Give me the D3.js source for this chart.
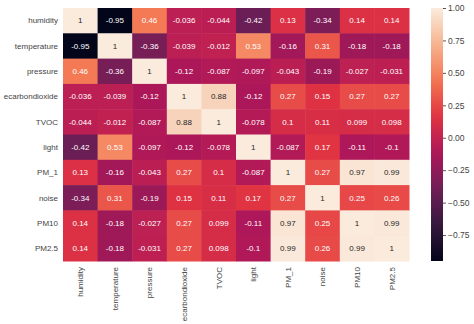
<!DOCTYPE html>
<html lang="en">
<head>
<meta charset="UTF-8">
<title>heatmap</title>
<script src="https://cdn.jsdelivr.net/npm/d3@7"></script>
<style>
    body { margin: 0; background: #fff; }
    text { font-family: "Liberation Sans", Arial, sans-serif; }
</style>
</head>
<body>
<div id="d3"></div>
<script>
    // variables
    var names = ["humidity", "temperature", "pressure", "ecarbondioxide", "TVOC",
                 "light", "PM_1", "noise", "PM10", "PM2.5"];
    // correlation matrix, row by row
    var humidity       = [1, -0.95, 0.46, -0.036, -0.044, -0.42, 0.13, -0.34, 0.14, 0.14];
    var temperature    = [-0.95, 1, -0.36, -0.039, -0.012, 0.53, -0.16, 0.31, -0.18, -0.18];
    var pressure       = [0.46, -0.36, 1, -0.12, -0.087, -0.097, -0.043, -0.19, -0.027, -0.031];
    var ecarbondioxide = [-0.036, -0.039, -0.12, 1, 0.88, -0.12, 0.27, 0.15, 0.27, 0.27];
    var TVOC           = [-0.044, -0.012, -0.087, 0.88, 1, -0.078, 0.1, 0.11, 0.099, 0.098];
    var light          = [-0.42, 0.53, -0.097, -0.12, -0.078, 1, -0.087, 0.17, -0.11, -0.1];
    var PM_1           = [0.13, -0.16, -0.043, 0.27, 0.1, -0.087, 1, 0.27, 0.97, 0.99];
    var noise          = [-0.34, 0.31, -0.19, 0.15, 0.11, 0.17, 0.27, 1, 0.25, 0.26];
    var PM10           = [0.14, -0.18, -0.027, 0.27, 0.099, -0.11, 0.97, 0.25, 1, 0.99];
    var PM25           = [0.14, -0.18, -0.031, 0.27, 0.098, -0.1, 0.99, 0.26, 0.99, 1];
    var matrix = [humidity, temperature, pressure, ecarbondioxide, TVOC,
                  light, PM_1, noise, PM10, PM25];
    var cbTicks = [-0.75, -0.5, -0.25, 0, 0.25, 0.5, 0.75, 1];

    // rocket colormap stops
    var rocket = ["#03051a", "#35193e", "#701f57", "#ad1759", "#e13342", "#f37651", "#f6b48f", "#faebdd"];

    var width = 474, height = 324;
    var mLeft = 63, mRight = 409, mTop = 8, mBottom = 261;

    var cells = [];
    matrix.forEach(function (row, i) {
        row.forEach(function (v, j) {
            cells.push({row: names[i], col: names[j], value: v});
        });
    });

    var vmin = d3.min(cells, function (d) { return d.value; });
    var vmax = d3.max(cells, function (d) { return d.value; });

    var interp = d3.piecewise(d3.interpolateRgb, rocket);
    var color = d3.scaleSequential(interp).domain([vmin, vmax]);

    // pick dark or white annotation text
    function lum(c) {
        var rgb = d3.rgb(c);
        var f = function (v) {
            v = v / 255;
            return v <= 0.03928 ? v / 12.92 : Math.pow((v + 0.055) / 1.055, 2.4);
        };
        return 0.2126 * f(rgb.r) + 0.7152 * f(rgb.g) + 0.0722 * f(rgb.b);
    }

    var x = d3.scaleBand().domain(names).range([mLeft, mRight]);
    var y = d3.scaleBand().domain(names).range([mTop, mBottom]);

    var svg = d3.select("#d3")
                .append("svg")
                .attr("width", width)
                .attr("height", height);

    svg.append("g")
        .selectAll("rect")
        .data(cells)
        .enter()
        .append("rect")
        .attr("x", function (d) { return x(d.col); })
        .attr("y", function (d) { return y(d.row); })
        .attr("width", x.bandwidth() + 0.5)
        .attr("height", y.bandwidth() + 0.5)
        .style("fill", function (d) { return color(d.value); });

    svg.append("g")
        .selectAll("text")
        .data(cells)
        .enter()
        .append("text")
        .attr("x", function (d) { return x(d.col) + x.bandwidth() / 2; })
        .attr("y", function (d) { return y(d.row) + y.bandwidth() / 2; })
        .attr("dy", ".35em")
        .attr("text-anchor", "middle")
        .style("font-size", "8px")
        .style("fill", function (d) { return lum(color(d.value)) > 0.408 ? "#262626" : "#fff"; })
        .text(function (d) { return String(d.value); });

    // row labels
    svg.append("g")
        .selectAll("text")
        .data(names)
        .enter()
        .append("text")
        .attr("x", mLeft - 5)
        .attr("y", function (d) { return y(d) + y.bandwidth() / 2; })
        .attr("dy", ".35em")
        .attr("text-anchor", "end")
        .style("font-size", "8px")
        .style("fill", "#444")
        .text(function (d) { return d; });

    // column labels
    svg.append("g")
        .selectAll("text")
        .data(names)
        .enter()
        .append("text")
        .attr("transform", function (d) {
            return "translate(" + (x(d) + x.bandwidth() / 2) + "," + (mBottom + 6) + ")rotate(-90)";
        })
        .attr("dy", ".35em")
        .attr("text-anchor", "end")
        .style("font-size", "8px")
        .style("fill", "#444")
        .text(function (d) { return d; });

    // colorbar
    var cbX = 431, cbW = 12;
    var cy = d3.scaleLinear().domain([vmin, vmax]).range([mBottom, mTop]);
    var defs = svg.append("defs");
    var grad = defs.append("linearGradient")
        .attr("id", "cb")
        .attr("x1", 0).attr("y1", 1).attr("x2", 0).attr("y2", 0);
    d3.range(0, 1.0001, 0.05).forEach(function (t) {
        grad.append("stop")
            .attr("offset", t)
            .attr("stop-color", interp(t));
    });
    svg.append("rect")
        .attr("x", cbX)
        .attr("y", mTop)
        .attr("width", cbW)
        .attr("height", mBottom - mTop)
        .style("fill", "url(#cb)");

    var cbAxis = d3.axisRight(cy)
        .tickValues(cbTicks)
        .tickFormat(d3.format(".2f"))
        .tickSize(3)
        .tickPadding(2);
    var gAxis = svg.append("g")
        .attr("transform", "translate(" + (cbX + cbW) + ",0)")
        .call(cbAxis);
    gAxis.select(".domain").remove();
    gAxis.selectAll("line").style("stroke", "#555");
    gAxis.selectAll("text")
        .style("font-size", "8.5px")
        .style("fill", "#444")
        .style("font-family", "\"Liberation Sans\", Arial, sans-serif");
</script>
</body>
</html>
